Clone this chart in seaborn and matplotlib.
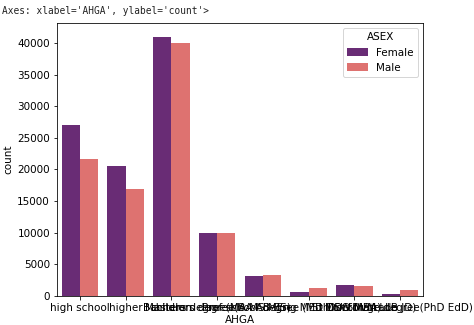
import matplotlib
matplotlib.use("Agg")
import matplotlib.pyplot as plt
import seaborn as sns
import pandas as pd

# Education level (AHGA) categories in display order
categories = [
    "high school",
    "higher",
    "children",
    "Bachelors degree(BA AB BS)",
    "Masters degree(MA MS MEng MEd MSW MBA)",
    "Prof school degree (MD DDS DVM LLB JD)",
    "5th or 6th grade",
    "Doctorate degree(PhD EdD)",
]
# Counts per sex for each category
female_counts = [27000, 20600, 40900, 10000, 3100, 580, 1690, 310]
male_counts = [21600, 16900, 40050, 9950, 3370, 1260, 1580, 900]
sexes = ["Female", "Male"]

df = pd.DataFrame({
    "AHGA": categories * 2,
    "count": female_counts + male_counts,
    "ASEX": [sexes[0]] * len(categories) + [sexes[1]] * len(categories),
})

plt.rcParams["font.size"] = 10.4

fig = plt.figure(figsize=(474 / 72, 325 / 72), dpi=72)
ax = fig.add_axes([57 / 474, 29 / 325, 366 / 474, 273 / 325])

sns.barplot(data=df, x="AHGA", y="count", hue="ASEX", palette="magma",
            hue_order=sexes, order=categories, ax=ax)
ax.set_ylim(0, 43160)
ax.set_xlabel("AHGA", labelpad=2)
ax.legend(title="ASEX", loc="upper right")

fig.text(0.004, 1 - 11 / 325, "Axes: xlabel='AHGA', ylabel='count'>",
         family="DejaVu Sans Mono", fontsize=9.5, va="center", ha="left",
         color="#222222")

fig.savefig("out.png", dpi=72)
